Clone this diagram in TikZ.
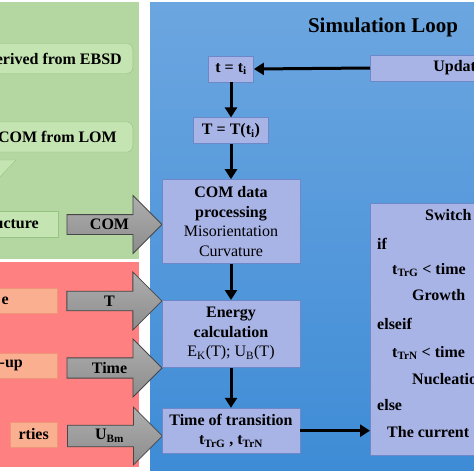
\documentclass[tikz,border=0pt]{standalone}
\usepackage{fontspec}
\setmainfont{Liberation Serif}
\usetikzlibrary{positioning,shapes.arrows,arrows.meta}

\definecolor{panelgreen}{RGB}{180,214,160}
\definecolor{boxgreen}{RGB}{196,228,178}
\definecolor{edgegreen}{RGB}{150,195,130}
\definecolor{panelred}{RGB}{255,128,128}
\definecolor{boxorange}{RGB}{250,175,145}
\definecolor{edgeorange}{RGB}{240,150,120}
\definecolor{arrowgray}{RGB}{140,140,140}
\definecolor{arrowedge}{RGB}{70,70,70}
\definecolor{bluetop}{RGB}{108,166,224}
\definecolor{bluebot}{RGB}{62,140,214}
\definecolor{boxblue}{RGB}{168,180,230}
\definecolor{boxedge}{RGB}{110,135,200}

\begin{document}
\begin{tikzpicture}[x=1pt,y=-1pt,>={Triangle[width=12pt,length=10pt]},
  every node/.style={font=\fontsize{16}{19.5}\selectfont\bfseries,text=black},
  loop box/.style={rectangle,fill=boxblue,draw=boxedge,line width=0.8pt,align=center,inner sep=2pt},
  flow/.style={->,line width=3pt},
  green box/.style={rectangle,rounded corners=6pt,fill=boxgreen,draw=edgegreen,minimum height=30pt,anchor=east},
  orange box/.style={rectangle,fill=boxorange,draw=edgeorange,minimum height=25pt,anchor=east},
  data arrow/.style={single arrow,top color=arrowgray!70,bottom color=arrowgray,draw=arrowedge,line width=0.8pt,
    minimum height=95pt,minimum width=58pt,single arrow head extend=15pt,inner sep=2pt}]

  \useasboundingbox (0,0) rectangle (474,474);
  \clip (0,0) rectangle (474,474);

  % panels
  \fill[white] (0,0) rectangle (474,474);
  \fill[panelgreen] (0,2) rectangle (139,259);
  \fill[panelred] (0,262) rectangle (139,467);
  \shade[top color=bluetop,bottom color=bluebot] (150,2) rectangle (474,470);

  % inputs
  \node[green box,inner xsep=11pt] (ebsd) at (133,58.5) {erived from EBSD};
  \node[green box,inner xsep=16pt] (lom) at (133,137) {COM from LOM};
  \filldraw[fill=boxgreen,draw=edgegreen] (-20,160) -- (16,160) -- (-2,179) -- cycle;
  \node[green box,rounded corners=0pt,inner xsep=19pt,minimum height=26pt] (micro) at (58,224) {ucture};
  \node[orange box,inner xsep=48pt] (tempsrc) at (57,300.5) {e};
  \node[orange box,inner xsep=34pt] (timesrc) at (57,365.5) {-up};
  \node[orange box,inner xsep=8pt] (propsrc) at (57,434.5) {rties};

  \node[data arrow] (comarrow) at (109.5,224.5) {COM};
  \node[data arrow] (temparrow) at (109.5,301) {T};
  \node[data arrow] (timearrow) at (109.5,368) {Time};
  \node[data arrow] (ubmarrow) at (109.5,436) {U\textsubscript{Bm}};

  % simulation loop
  \node (title) at (383,27) {\fontsize{21}{24}\selectfont Simulation Loop};
  \node[loop box,minimum width=45pt,minimum height=26pt] (tnow) at (231,69) {t = t\textsubscript{i}};
  \node[loop box,minimum width=75pt,minimum height=26pt,below=35pt of tnow] (Tnow) {T = T(t\textsubscript{i})};
  \node[loop box,minimum width=138pt,minimum height=84pt,below=35pt of Tnow] (comproc)
    {COM data\\processing\\\mdseries Misorientation\\\mdseries Curvature};
  \node[loop box,minimum width=138pt,minimum height=67pt,below=36pt of comproc] (energy)
    {Energy\\calculation\\\mdseries E\textsubscript{K}(T); U\textsubscript{B}(T)};
  \node[loop box,minimum width=138pt,minimum height=45pt,below=40pt of energy] (trans)
    {Time of transition\\t\textsubscript{TrG} , t\textsubscript{TrN}};
  \node[loop box,anchor=west,minimum height=26pt,inner xsep=63pt] (update) at (370,68) {Update};
  \node[loop box,anchor=north west,minimum width=150pt,minimum height=252pt] (switch) at (370,203) {};
  \foreach \txt/\xx/\yy [count=\k] in {Switch/425/218, if/377/247,
      {t\textsubscript{TrG} < time}/392/272, Growth/412/298, elseif/377/327,
      {t\textsubscript{TrN} < time}/392/355, Nucleation/412/382, else/377/408,
      The current/387/435}
    \node[anchor=mid west,inner sep=0pt] (sw\k) at (\xx,\yy) {\txt};

  \draw[flow] (update.west) -- (tnow.east);
  \draw[flow] (tnow) -- (Tnow);
  \draw[flow] (Tnow) -- (comproc);
  \draw[flow] (comproc) -- (energy);
  \draw[flow] (energy) -- (trans);
  \draw[flow] (trans.east) -- (trans.east -| switch.west);
\end{tikzpicture}
\end{document}
